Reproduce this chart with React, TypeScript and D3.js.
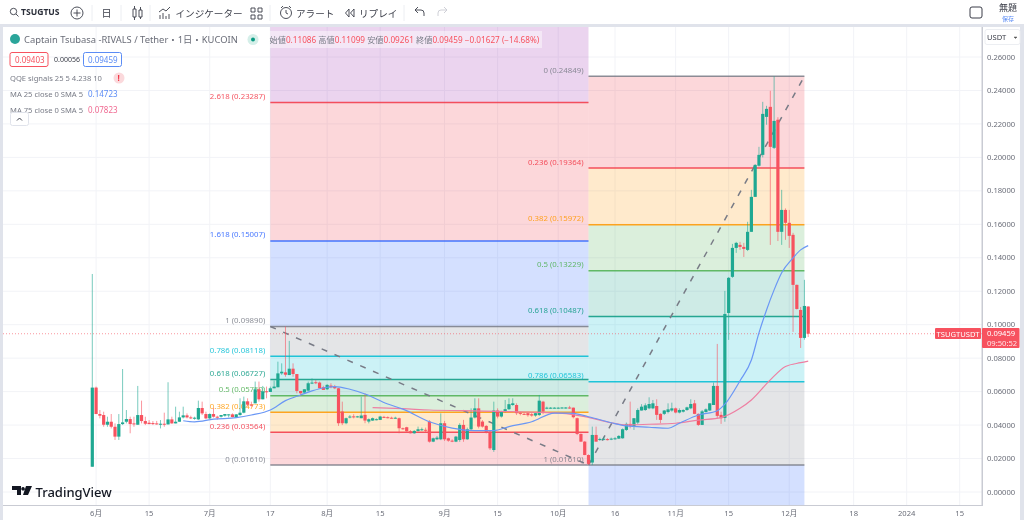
import React, { useEffect, useRef } from "react";
import * as d3 from "d3";

const WIDTH = 1024;
const HEIGHT = 520;
const FONT = '"Noto Sans", "Noto Sans CJK JP", sans-serif';

const GREEN = "#1fa892";
const RED = "#f7525f";
const GREY_TEXT = "#787b86";

// daily candles, first one is 2023-05-31
const startDate = new Date(2023, 4, 31);

const opens = [
  0.0151, 0.0624, 0.0466, 0.046, 0.0402, 0.042, 0.039, 0.0331, 0.0406, 0.042,
  0.0436, 0.041, 0.0402, 0.046, 0.0424, 0.0414, 0.0412, 0.041, 0.0404, 0.0408,
  0.0404, 0.0434, 0.041, 0.042, 0.0446, 0.0458, 0.0446, 0.044, 0.0434, 0.0502,
  0.0466, 0.044, 0.0466, 0.045, 0.045, 0.0456, 0.046, 0.0464, 0.0446, 0.046,
  0.0474, 0.0542, 0.0522, 0.053, 0.0614, 0.0554, 0.0602, 0.0598, 0.062, 0.0626,
  0.0709, 0.0715, 0.0699, 0.0737, 0.0705, 0.0604, 0.0594, 0.0606, 0.065, 0.0656,
  0.0654, 0.0626, 0.0614, 0.0636, 0.063, 0.062, 0.0481, 0.0411, 0.0448, 0.0452,
  0.0449, 0.0441, 0.0461, 0.0421, 0.0427, 0.0431, 0.0431, 0.0449, 0.0447, 0.0444,
  0.0442, 0.0441, 0.0381, 0.0387, 0.0363, 0.0351, 0.0365, 0.0372, 0.0372, 0.0421,
  0.0301, 0.0315, 0.0315, 0.0411, 0.0321, 0.0307, 0.0301, 0.0311, 0.0401, 0.0315,
  0.0375, 0.0445, 0.05, 0.0421, 0.0395, 0.0361, 0.0251, 0.0487, 0.0451, 0.048,
  0.0495, 0.052, 0.052, 0.0474, 0.0467, 0.0471, 0.0465, 0.0457, 0.046, 0.054,
  0.05, 0.0503, 0.0503, 0.0503, 0.0503, 0.0504, 0.0505, 0.0504, 0.0441, 0.0347,
  0.0301, 0.0221, 0.0176, 0.0341, 0.0311, 0.0314, 0.0316, 0.0316, 0.0319, 0.0319,
  0.0321, 0.0371, 0.0407, 0.0391, 0.0415, 0.0487, 0.049, 0.05, 0.05, 0.0514,
  0.0467, 0.0467, 0.0478, 0.0487, 0.05, 0.0475, 0.048, 0.049, 0.05, 0.053,
  0.0467, 0.0401, 0.0478, 0.0487, 0.052, 0.0634, 0.0461, 0.0443, 0.107, 0.1286,
  0.1459, 0.1477, 0.1465, 0.1447, 0.1555, 0.1764, 0.195, 0.2015, 0.2242, 0.2302,
  0.2057, 0.2225, 0.1555, 0.1686, 0.1609, 0.1537, 0.1238, 0.1088, 0.0921, 0.11086,
];

const highs = [
  0.1303, 0.063, 0.049, 0.048, 0.045, 0.0466, 0.041, 0.0466, 0.0735, 0.049,
  0.045, 0.045, 0.0634, 0.0546, 0.045, 0.043, 0.0424, 0.0425, 0.043, 0.0474,
  0.0656, 0.045, 0.051, 0.048, 0.051, 0.047, 0.0456, 0.045, 0.0546, 0.054,
  0.048, 0.047, 0.0502, 0.0456, 0.046, 0.0466, 0.0466, 0.047, 0.0466, 0.056,
  0.057, 0.056, 0.054, 0.066, 0.066, 0.0634, 0.063, 0.063, 0.0666, 0.0779,
  0.0769, 0.0989, 0.0903, 0.0769, 0.0705, 0.0604, 0.0614, 0.066, 0.0679, 0.0669,
  0.066, 0.0635, 0.0645, 0.065, 0.064, 0.0622, 0.054, 0.0445, 0.046, 0.0465,
  0.0455, 0.057, 0.059, 0.044, 0.0445, 0.044, 0.0455, 0.0455, 0.0452, 0.045,
  0.045, 0.0445, 0.0385, 0.039, 0.037, 0.037, 0.0391, 0.0385, 0.0385, 0.043,
  0.0325, 0.0335, 0.047, 0.0425, 0.0325, 0.0315, 0.0335, 0.0411, 0.0431, 0.0385,
  0.05, 0.056, 0.056, 0.043, 0.04, 0.0365, 0.054, 0.05, 0.0485, 0.055,
  0.056, 0.056, 0.053, 0.048, 0.0475, 0.048, 0.0475, 0.0475, 0.058, 0.0545,
  0.051, 0.0508, 0.0507, 0.0507, 0.0507, 0.0508, 0.0515, 0.0505, 0.0445, 0.035,
  0.0305, 0.0225, 0.0391, 0.0391, 0.0325, 0.033, 0.0322, 0.0325, 0.0328, 0.034,
  0.038, 0.0415, 0.054, 0.0441, 0.05, 0.0525, 0.053, 0.0566, 0.055, 0.0554,
  0.047, 0.049, 0.053, 0.0534, 0.0505, 0.05, 0.0495, 0.051, 0.0554, 0.055,
  0.047, 0.049, 0.05, 0.053, 0.0654, 0.0885, 0.048, 0.1202, 0.1285, 0.1483,
  0.1495, 0.1495, 0.1489, 0.1615, 0.1806, 0.196, 0.2063, 0.2332, 0.2308, 0.2398,
  0.24849, 0.224, 0.1806, 0.1695, 0.1686, 0.1549, 0.124, 0.1106, 0.1268, 0.11099,
];

const lows = [
  0.0151, 0.0466, 0.044, 0.039, 0.039, 0.038, 0.0311, 0.0311, 0.04, 0.041,
  0.0351, 0.039, 0.0402, 0.041, 0.04, 0.0405, 0.04, 0.0402, 0.038, 0.039,
  0.0404, 0.0408, 0.041, 0.042, 0.044, 0.044, 0.0436, 0.0432, 0.043, 0.046,
  0.0436, 0.0436, 0.0445, 0.0432, 0.0445, 0.045, 0.0446, 0.0446, 0.0442, 0.0456,
  0.047, 0.051, 0.051, 0.053, 0.054, 0.0554, 0.056, 0.0598, 0.062, 0.0626,
  0.07, 0.0689, 0.0699, 0.0689, 0.059, 0.0575, 0.059, 0.06, 0.0645, 0.0645,
  0.062, 0.061, 0.061, 0.062, 0.0615, 0.0395, 0.04, 0.0405, 0.044, 0.044,
  0.0445, 0.0441, 0.0411, 0.041, 0.0425, 0.0428, 0.0431, 0.0443, 0.044, 0.0438,
  0.0438, 0.0351, 0.0372, 0.036, 0.035, 0.0348, 0.0362, 0.0365, 0.0355, 0.0295,
  0.0298, 0.031, 0.031, 0.0305, 0.03, 0.0298, 0.0298, 0.03, 0.03, 0.0312,
  0.037, 0.044, 0.038, 0.0385, 0.035, 0.0251, 0.024, 0.044, 0.0445, 0.0475,
  0.049, 0.0515, 0.046, 0.0458, 0.046, 0.045, 0.045, 0.045, 0.0455, 0.0465,
  0.0495, 0.0497, 0.0499, 0.0499, 0.0499, 0.0498, 0.0497, 0.044, 0.034, 0.03,
  0.022, 0.0161, 0.0161, 0.03, 0.0305, 0.0308, 0.0308, 0.031, 0.0312, 0.0317,
  0.0319, 0.0365, 0.0381, 0.0371, 0.0405, 0.0487, 0.0485, 0.0495, 0.0495, 0.0431,
  0.0411, 0.046, 0.047, 0.048, 0.047, 0.047, 0.0475, 0.0485, 0.0495, 0.0465,
  0.0395, 0.04, 0.0475, 0.0485, 0.052, 0.044, 0.0407, 0.042, 0.0909, 0.128,
  0.1429, 0.1447, 0.1405, 0.144, 0.1555, 0.1764, 0.1945, 0.2, 0.2195, 0.1477,
  0.205, 0.15, 0.1477, 0.1507, 0.1459, 0.0957, 0.109, 0.0861, 0.091, 0.09261,
];

const closes = [
  0.0624, 0.0466, 0.0456, 0.0402, 0.042, 0.039, 0.0331, 0.0406, 0.0416, 0.0436,
  0.0406, 0.0408, 0.046, 0.0424, 0.0408, 0.0406, 0.0408, 0.0408, 0.0408, 0.0402,
  0.0434, 0.041, 0.042, 0.0446, 0.0458, 0.0446, 0.0444, 0.0444, 0.0502, 0.047,
  0.044, 0.0466, 0.045, 0.0446, 0.046, 0.0466, 0.0464, 0.0448, 0.0464, 0.0474,
  0.0542, 0.0522, 0.0518, 0.0614, 0.0554, 0.0602, 0.0598, 0.062, 0.063, 0.0709,
  0.0719, 0.0701, 0.0737, 0.0705, 0.0604, 0.059, 0.0614, 0.065, 0.0654, 0.0652,
  0.062, 0.061, 0.064, 0.0626, 0.062, 0.0411, 0.0411, 0.0441, 0.0451, 0.0449,
  0.0452, 0.0457, 0.0427, 0.0435, 0.0441, 0.0435, 0.0451, 0.0447, 0.0443, 0.0441,
  0.0444, 0.0381, 0.0379, 0.0363, 0.0351, 0.0365, 0.0375, 0.0375, 0.0367, 0.0301,
  0.0321, 0.0325, 0.0411, 0.0315, 0.0307, 0.0305, 0.0331, 0.0401, 0.0315, 0.0375,
  0.0445, 0.05, 0.0391, 0.0391, 0.0355, 0.0261, 0.0487, 0.0451, 0.048, 0.0495,
  0.0525, 0.053, 0.0471, 0.0467, 0.0465, 0.0459, 0.0457, 0.0471, 0.0546, 0.0481,
  0.0504, 0.0504, 0.0504, 0.0504, 0.0505, 0.0505, 0.0503, 0.0447, 0.0347, 0.0301,
  0.0221, 0.0168, 0.0341, 0.0301, 0.0317, 0.0318, 0.0312, 0.0319, 0.0321, 0.0335,
  0.0375, 0.0407, 0.0395, 0.0441, 0.049, 0.051, 0.0518, 0.0526, 0.053, 0.0461,
  0.0431, 0.0487, 0.0494, 0.05, 0.0475, 0.049, 0.049, 0.0506, 0.0526, 0.0467,
  0.0401, 0.0482, 0.0494, 0.053, 0.0634, 0.0455, 0.0441, 0.1064, 0.128, 0.1459,
  0.1489, 0.1465, 0.1453, 0.1555, 0.1764, 0.1955, 0.2015, 0.226, 0.229, 0.2063,
  0.2218, 0.1555, 0.1686, 0.1609, 0.1531, 0.1238, 0.1094, 0.0921, 0.1112, 0.09459,
];

// moving averages as [candle number, price]
const ma25: [number, number][] = [
  [24, 0.0426], [27, 0.0419], [32, 0.0435], [38, 0.0444], [42, 0.046], [47, 0.049],
  [51, 0.0546], [55, 0.058], [58, 0.0604], [62, 0.0626], [64, 0.063], [68, 0.0614],
  [72, 0.0586], [78, 0.0526], [82, 0.0495], [89, 0.042], [95, 0.0382], [101, 0.0367],
  [106, 0.0367], [110, 0.0391], [116, 0.042], [122, 0.0472], [126, 0.0472], [131, 0.045],
  [137, 0.0414], [141, 0.0395], [147, 0.0387], [152, 0.0381], [155, 0.0411], [160, 0.046],
  [165, 0.0486], [167, 0.0525], [171, 0.0665], [174, 0.0789], [176, 0.0951], [178, 0.1088],
  [180, 0.1208], [182, 0.131], [185, 0.1399], [187, 0.1447], [189, 0.14723],
];

const ma75: [number, number][] = [
  [74, 0.0504], [82, 0.0498], [89, 0.049], [98, 0.0486], [110, 0.048], [120, 0.0474],
  [126, 0.0466], [131, 0.0446], [137, 0.0414], [141, 0.0401], [147, 0.0405], [154, 0.0411],
  [160, 0.043], [166, 0.0445], [171, 0.05], [174, 0.055], [179, 0.067], [183, 0.075],
  [187, 0.0773], [189, 0.07823],
];

const priceTicks = [0, 0.02, 0.04, 0.06, 0.08, 0.1, 0.12, 0.14, 0.16, 0.18, 0.2, 0.22, 0.24, 0.26];

const timeTicks: [Date, string][] = [
  [new Date(2023, 5, 1), "6月"],
  [new Date(2023, 5, 15), "15"],
  [new Date(2023, 6, 1), "7月"],
  [new Date(2023, 6, 17), "17"],
  [new Date(2023, 7, 1), "8月"],
  [new Date(2023, 7, 15), "15"],
  [new Date(2023, 8, 1), "9月"],
  [new Date(2023, 8, 15), "15"],
  [new Date(2023, 9, 1), "10月"],
  [new Date(2023, 9, 16), "16"],
  [new Date(2023, 10, 1), "11月"],
  [new Date(2023, 10, 15), "15"],
  [new Date(2023, 11, 1), "12月"],
  [new Date(2023, 11, 18), "18"],
  [new Date(2024, 0, 1), "2024"],
  [new Date(2024, 0, 15), "15"],
];

const fibRatios = [0, 0.236, 0.382, 0.5, 0.618, 0.786, 1, 1.618, 2.618, 3.618];
const fibColors = ["#787b86", "#f23645", "#ff9800", "#4caf50", "#089981", "#00bcd4", "#787b86", "#2962ff", "#f23645", "#9c27b0"];

// left fib: low 0.01610 -> high 0.09890, right fib: high 0.24849 -> low 0.01610
const fibLow = 0.0161;
const fibMid = 0.0989;
const fibHigh = 0.248487;
const fibLeftFrom = new Date(2023, 6, 17);
const fibSplit = new Date(2023, 9, 9);
const fibRightTo = new Date(2023, 11, 5);

const App: React.FC = () => {
  const ref = useRef<SVGSVGElement | null>(null);

  useEffect(() => {
    document.body.style.margin = "0";
    const svg = d3.select(ref.current);
    svg.selectAll("*").remove();
    svg.attr("font-family", FONT);

    const dates = opens.map((_, i) => d3.timeDay.offset(startDate, i));
    const x = d3
      .scaleTime()
      .domain([startDate, dates[189]])
      .range([92.3, 808.2]);
    const y = d3.scaleLinear().domain([0, 0.26]).range([492, 57]);
    const candleX = (i: number) => x(dates[i]);
    const fmt = d3.format(".5f");

    svg.append("rect").attr("width", WIDTH).attr("height", HEIGHT).attr("fill", "#fff");

    svg.append("clipPath").attr("id", "pane").append("rect").attr("x", 3).attr("y", 27).attr("width", 979).attr("height", 478);
    const pane = svg.append("g").attr("clip-path", "url(#pane)");

    // grid
    pane
      .selectAll(".gy")
      .data(priceTicks)
      .enter()
      .append("line")
      .attr("x1", 3)
      .attr("x2", 982)
      .attr("y1", d => y(d))
      .attr("y2", d => y(d))
      .attr("stroke", "#f2f3f7");
    pane
      .selectAll(".gx")
      .data(timeTicks)
      .enter()
      .append("line")
      .attr("x1", d => x(d[0]))
      .attr("x2", d => x(d[0]))
      .attr("y1", 27)
      .attr("y2", 505)
      .attr("stroke", "#f2f3f7");

    // fib retracements
    const drawFib = (
      from: Date,
      to: Date,
      priceAt: (r: number) => number,
      bandCount: number,
      lineCount: number,
      labelX: number
    ) => {
      const x0 = x(from);
      const x1 = x(to);
      d3.range(bandCount).forEach(k => {
        const a = y(priceAt(fibRatios[k]));
        const b = y(priceAt(fibRatios[k + 1]));
        pane
          .append("rect")
          .attr("x", x0)
          .attr("width", x1 - x0)
          .attr("y", Math.min(a, b))
          .attr("height", Math.abs(a - b))
          .attr("fill", fibColors[k + 1])
          .attr("fill-opacity", 0.2);
      });
      d3.range(lineCount).forEach(k => {
        const p = priceAt(fibRatios[k]);
        pane
          .append("line")
          .attr("x1", x0)
          .attr("x2", x1)
          .attr("y1", y(p))
          .attr("y2", y(p))
          .attr("stroke", fibColors[k])
          .attr("stroke-opacity", 0.85)
          .attr("stroke-width", 1.5);
        pane
          .append("text")
          .attr("x", labelX)
          .attr("y", y(p) - 3.5)
          .attr("text-anchor", "end")
          .attr("font-size", 7.8)
          .attr("fill", fibColors[k])
          .attr("fill-opacity", 0.85)
          .text(`${fibRatios[k]} (${fmt(p)})`);
      });
    };

    drawFib(fibLeftFrom, fibSplit, r => fibLow + r * (fibMid - fibLow), 9, 9, x(fibLeftFrom) - 5);
    drawFib(fibSplit, fibRightTo, r => fibHigh - r * (fibHigh - fibLow), 7, 7, x(fibSplit) - 5);

    // dashed trend lines of both fibs
    const trend = [
      [fibLeftFrom, fibMid, fibSplit, fibLow],
      [fibSplit, fibLow, fibRightTo, fibHigh],
    ] as [Date, number, Date, number][];
    pane
      .selectAll(".trend")
      .data(trend)
      .enter()
      .append("line")
      .attr("x1", d => x(d[0]))
      .attr("y1", d => y(d[1]))
      .attr("x2", d => x(d[2]))
      .attr("y2", d => y(d[3]))
      .attr("stroke", "#787b86")
      .attr("stroke-width", 1.5)
      .attr("stroke-dasharray", "6 8");

    // last price line
    pane
      .append("line")
      .attr("x1", 3)
      .attr("x2", 982)
      .attr("y1", y(closes[189]))
      .attr("y2", y(closes[189]))
      .attr("stroke", RED)
      .attr("stroke-opacity", 0.6)
      .attr("stroke-dasharray", "1 2");

    // candles
    const candles = pane.selectAll(".candle").data(opens).enter().append("g");
    candles
      .append("line")
      .attr("x1", (_, i) => candleX(i))
      .attr("x2", (_, i) => candleX(i))
      .attr("y1", (_, i) => y(highs[i]))
      .attr("y2", (_, i) => y(lows[i]))
      .attr("stroke", (d, i) => (closes[i] >= d ? GREEN : RED))
      .attr("stroke-opacity", 0.6);
    candles
      .append("rect")
      .attr("x", (_, i) => candleX(i) - 1.6)
      .attr("width", 3.2)
      .attr("y", (d, i) => y(Math.max(d, closes[i])))
      .attr("height", (d, i) => Math.max(1, Math.abs(y(d) - y(closes[i]))))
      .attr("fill", (d, i) => (closes[i] >= d ? GREEN : RED));

    // moving averages
    const maLine = d3
      .line<[number, number]>()
      .x(d => candleX(d[0]))
      .y(d => y(d[1]))
      .curve(d3.curveMonotoneX);
    pane.append("path").attr("d", maLine(ma75)).attr("fill", "none").attr("stroke", "#ee7fa2").attr("stroke-width", 1.2);
    pane.append("path").attr("d", maLine(ma25)).attr("fill", "none").attr("stroke", "#6a97f5").attr("stroke-width", 1.2);

    // frame around the pane
    svg.append("rect").attr("x", 0).attr("y", 24).attr("width", WIDTH).attr("height", 3).attr("fill", "#e0e3eb");
    svg.append("rect").attr("x", 0).attr("y", 24).attr("width", 3).attr("height", HEIGHT - 24).attr("fill", "#e0e3eb");
    svg.append("rect").attr("x", 1020).attr("y", 24).attr("width", 4).attr("height", HEIGHT - 24).attr("fill", "#e0e3eb");
    svg.append("rect").attr("x", 981.5).attr("y", 27).attr("width", 1.5).attr("height", 478).attr("fill", "#c9cbd3");
    svg.append("rect").attr("x", 3).attr("y", 505).attr("width", 980).attr("height", 1).attr("fill", "#c9cbd3");

    // price axis
    svg
      .selectAll(".py")
      .data(priceTicks)
      .enter()
      .append("text")
      .attr("x", 987)
      .attr("y", d => y(d) + 2.6)
      .attr("font-size", 7.6)
      .attr("fill", "#6a6d78")
      .text(d => fmt(d));

    // time axis
    svg
      .selectAll(".tx")
      .data(timeTicks)
      .enter()
      .append("text")
      .attr("x", d => x(d[0]))
      .attr("y", 516)
      .attr("text-anchor", "middle")
      .attr("font-size", 7.6)
      .attr("fill", "#6a6d78")
      .text(d => d[1]);

    // USDT selector
    svg.append("rect").attr("x", 985).attr("y", 29.5).attr("width", 35).attr("height", 15).attr("rx", 2).attr("fill", "#fff").attr("stroke", "#eceef2");
    svg.append("text").attr("x", 987).attr("y", 40).attr("font-size", 7.6).attr("fill", "#3a3d48").text("USDT");
    svg.append("path").attr("d", "M1014 37h3l-1.5 1.5z").attr("fill", "#555").attr("stroke", "#555").attr("stroke-width", 0.5);

    // last price tags
    svg.append("rect").attr("x", 935).attr("y", 328).attr("width", 46).attr("height", 11).attr("rx", 1).attr("fill", RED);
    svg.append("text").attr("x", 958).attr("y", 336.5).attr("text-anchor", "middle").attr("font-size", 7.6).attr("fill", "#fff").text("TSUGTUSDT");
    svg.append("rect").attr("x", 982).attr("y", 328).attr("width", 37.5).attr("height", 20).attr("rx", 1).attr("fill", RED);
    svg.append("text").attr("x", 987).attr("y", 336).attr("font-size", 7.6).attr("fill", "#fff").text(fmt(closes[189]));
    svg.append("text").attr("x", 987).attr("y", 345.5).attr("font-size", 7.6).attr("fill", "#ffe3e5").text("09:50:52");

    // top toolbar
    const txt = (tx: number, ty: number, size: number, fill: string, s: string, weight = 400) =>
      svg.append("text").attr("x", tx).attr("y", ty).attr("font-size", size).attr("fill", fill).attr("font-weight", weight).text(s);
    const icon = svg.append("g").attr("fill", "none").attr("stroke", "#3a3d48").attr("stroke-width", 0.9);
    icon.append("circle").attr("cx", 13.5).attr("cy", 11.5).attr("r", 3.2);
    icon.append("path").attr("d", "M16 14l2.5 2.5");
    txt(21, 15, 8.6, "#2a2e39", "TSUGTUS", 700);
    icon.append("circle").attr("cx", 77).attr("cy", 13).attr("r", 6);
    icon.append("path").attr("d", "M77 9.5v7M73.5 13h7");
    [92, 121, 150, 270, 404].forEach(dx => {
      svg.append("line").attr("x1", dx).attr("x2", dx).attr("y1", 5).attr("y2", 21).attr("stroke", "#eceef2");
    });
    txt(101.5, 17, 10, "#3a3d48", "日");
    icon.append("path").attr("d", "M133 9h3v8h-3zM134.5 6v3M134.5 17v3M139 10h3v7h-3zM140.5 7v3M140.5 17v2");
    icon.append("path").attr("d", "M160 19v-4M163 19v-6M166 19v-3M169 19v-5M159 12l4-3 3 2 4-4");
    txt(175.5, 16.5, 9.6, "#3a3d48", "インジケーター");
    icon.append("path").attr("d", "M251 8h4v4h-4zM258 8h4v4h-4zM251 15h4v4h-4zM258 15h4v4h-4z");
    icon.append("circle").attr("cx", 286).attr("cy", 13).attr("r", 5.5);
    icon.append("path").attr("d", "M286 10v3l2 1M281 8l2-2M291 8l-2-2");
    txt(296, 16.5, 9.6, "#3a3d48", "アラート");
    icon.append("path").attr("d", "M349 9l-3.5 4 3.5 4zM354 9l-3.5 4 3.5 4z");
    txt(359, 16.5, 9.6, "#3a3d48", "リプレイ");
    icon.append("path").attr("d", "M415 10l3-3M415 10l3 3M415 10h6a3 3 0 0 1 3 3v3");
    svg.append("path").attr("d", "M447 10l-3-3M447 10l-3 3M447 10h-6a3 3 0 0 0-3 3v3").attr("fill", "none").attr("stroke", "#c9cbd3").attr("stroke-width", 0.9);
    svg.append("rect").attr("x", 970).attr("y", 7).attr("width", 12).attr("height", 11).attr("rx", 2).attr("fill", "none").attr("stroke", "#3a3d48");
    txt(999, 11, 9, "#3a3d48", "無題");
    txt(1002, 20.5, 6, "#5b8cf5", "保存");

    // legend
    svg.append("circle").attr("cx", 15).attr("cy", 39).attr("r", 5).attr("fill", "#2ba59a");
    txt(24, 43, 9.4, "#6a6d78", "Captain Tsubasa -RIVALS / Tether・1日・KUCOIN");
    svg.append("circle").attr("cx", 253).attr("cy", 39.5).attr("r", 5.5).attr("fill", "#d5efe9");
    svg.append("circle").attr("cx", 253).attr("cy", 39.5).attr("r", 2).attr("fill", "#089981");

    svg.append("rect").attr("x", 269).attr("y", 31).attr("width", 273).attr("height", 17).attr("fill", "#fff").attr("fill-opacity", 0.45);
    const ohlc = svg.append("text").attr("x", 269.5).attr("y", 42.5).attr("font-size", 8.2);
    [
      ["始値", GREY_TEXT],
      ["0.11086 ", RED],
      ["高値", GREY_TEXT],
      ["0.11099 ", RED],
      ["安値", GREY_TEXT],
      ["0.09261 ", RED],
      ["終値", GREY_TEXT],
      ["0.09459 ", RED],
      ["−0.01627 (−14.68%)", RED],
    ].forEach(([s, c]) => ohlc.append("tspan").attr("fill", c).text(s));

    svg.append("rect").attr("x", 10).attr("y", 52.5).attr("width", 38).attr("height", 14).attr("rx", 2).attr("fill", "#fff").attr("stroke", RED);
    txt(15, 62.5, 8, RED, "0.09403");
    txt(54, 62, 7, "#3a3d48", "0.00056");
    svg.append("rect").attr("x", 83.5).attr("y", 52.5).attr("width", 38).attr("height", 14).attr("rx", 2).attr("fill", "#fff").attr("stroke", "#5b8cf5");
    txt(88, 62.5, 8, "#5b8cf5", "0.09459");

    txt(10, 81, 7.6, GREY_TEXT, "QQE signals 25 5 4.238 10");
    svg.append("circle").attr("cx", 119).attr("cy", 78).attr("r", 5.5).attr("fill", "#fbd9dc");
    txt(117.5, 81, 8, "#f23645", "!", 700);
    txt(10, 97, 7.6, GREY_TEXT, "MA 25 close 0 SMA 5");
    txt(88, 97, 8, "#5b8cf5", "0.14723");
    txt(10, 113, 7.6, GREY_TEXT, "MA 75 close 0 SMA 5");
    txt(88, 113, 8, "#f06a92", "0.07823");
    svg.append("rect").attr("x", 10.5).attr("y", 112.5).attr("width", 18).attr("height", 13).attr("rx", 2).attr("fill", "#fff").attr("stroke", "#e0e3eb");
    svg.append("path").attr("d", "M17 120.5l2.5-2.5 2.5 2.5").attr("fill", "none").attr("stroke", "#3a3d48");

    // logo
    svg.append("path").attr("d", "M12 486h9v9h-4v-5h-5zM26 486h6l-4 9h-5zM23 487a1.8 1.8 0 1 0 0.1 0z").attr("fill", "#131722");
    txt(35.5, 497, 13, "#131722", "TradingView", 500);
  }, []);

  return <svg ref={ref} width={WIDTH} height={HEIGHT} style={{ display: "block", filter: "blur(0.3px)" }}></svg>;
};

export default App;
